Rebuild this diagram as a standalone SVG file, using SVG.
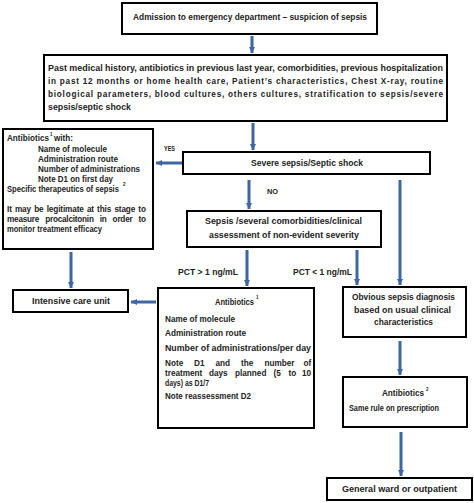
<svg xmlns="http://www.w3.org/2000/svg" width="474" height="503" viewBox="0 0 474 503">
<defs>
<marker id="ah" markerUnits="userSpaceOnUse" markerWidth="8" markerHeight="8" refX="6" refY="3.5" orient="auto">
<path d="M0,0.5 L6,3.5 L0,6.5 z" fill="#3d66a3"/>
</marker>
</defs>
<style>
.box{fill:#fff;stroke:#000;stroke-width:2}
.t{font-family:"Liberation Sans",Arial,sans-serif;font-weight:bold;font-size:8.2px;fill:#222}
.s{font-family:"Liberation Sans",Arial,sans-serif;font-weight:bold;font-size:4.5px;fill:#222}
.l{font-family:"Liberation Sans",Arial,sans-serif;font-weight:bold;font-size:7px;fill:#222}
.c{stroke:#3d66a3;stroke-width:3;fill:none;marker-end:url(#ah)}
</style>
<rect width="474" height="503" fill="#fff"/>
<g id="connectors">
<line class="c" x1="252" y1="36" x2="252" y2="53"/>
<line class="c" x1="253" y1="123" x2="253" y2="150"/>
<line class="c" x1="183" y1="163" x2="156" y2="163"/>
<line class="c" x1="249" y1="180" x2="249" y2="209"/>
<line class="c" x1="400" y1="180" x2="400" y2="285"/>
<line class="c" x1="71" y1="252" x2="71" y2="288"/>
<line class="c" x1="247" y1="250" x2="247" y2="286"/>
<line class="c" x1="357" y1="250" x2="357" y2="285"/>
<line class="c" x1="156" y1="302" x2="131" y2="302"/>
<line class="c" x1="400" y1="341" x2="400" y2="375"/>
<line class="c" x1="401" y1="432" x2="401" y2="476"/>
<text class="l" x="164" y="151" textLength="11" lengthAdjust="spacingAndGlyphs">YES</text>
<text class="l" x="267" y="194" textLength="11" lengthAdjust="spacingAndGlyphs">NO</text>
<text class="t" x="178" y="275" textLength="60" lengthAdjust="spacingAndGlyphs">PCT &gt; 1 ng/mL</text>
<text class="t" x="293" y="275" textLength="59" lengthAdjust="spacingAndGlyphs">PCT &lt; 1 ng/mL</text>
</g>
<g id="n-admission">
<rect class="box" x="122" y="3" width="255" height="31"/>
<text class="t" x="133" y="20" textLength="234" lengthAdjust="spacingAndGlyphs">Admission to emergency department – suspicion of sepsis</text>
</g>
<g id="n-history">
<rect class="box" x="44" y="55" width="403" height="66"/>
<text class="t" x="48" y="71" textLength="395" lengthAdjust="spacingAndGlyphs">Past medical history, antibiotics in previous last year, comorbidities, previous hospitalization</text>
<text class="t" x="48" y="84" textLength="395" lengthAdjust="spacing">in past 12 months or home health care, Patient’s characteristics, Chest X-ray, routine</text>
<text class="t" x="48" y="97" textLength="395" lengthAdjust="spacing">biological parameters, blood cultures, others cultures, stratification to sepsis/severe</text>
<text class="t" x="48" y="110" textLength="83" lengthAdjust="spacingAndGlyphs">sepsis/septic shock</text>
</g>
<g id="n-antibiotics-left">
<rect class="box" x="3" y="129" width="150" height="120"/>
<text class="t" x="7" y="141" textLength="42" lengthAdjust="spacingAndGlyphs">Antibiotics</text>
<text class="s" x="50" y="136">1</text>
<text class="t" x="54" y="141" textLength="19" lengthAdjust="spacingAndGlyphs">with:</text>
<text class="t" x="38" y="151.5" textLength="69" lengthAdjust="spacingAndGlyphs">Name of molecule</text>
<text class="t" x="38" y="162" textLength="80" lengthAdjust="spacingAndGlyphs">Administration route</text>
<text class="t" x="38" y="172" textLength="102" lengthAdjust="spacingAndGlyphs">Number of administrations</text>
<text class="t" x="38" y="182" textLength="75" lengthAdjust="spacingAndGlyphs">Note D1 on first day</text>
<text class="t" x="7" y="192" textLength="112" lengthAdjust="spacingAndGlyphs">Specific therapeutics of sepsis</text>
<text class="s" x="123" y="185.5">2</text>
<text class="t" x="7" y="212" word-spacing="1" textLength="139" lengthAdjust="spacing">It may be legitimate at this stage to</text>
<text class="t" x="7" y="222" word-spacing="4" textLength="139" lengthAdjust="spacing">measure procalcitonin in order to</text>
<text class="t" x="7" y="232" textLength="95" lengthAdjust="spacingAndGlyphs">monitor treatment efficacy</text>
</g>
<g id="n-severe">
<rect class="box" x="183" y="152" width="247" height="22"/>
<text class="t" x="251" y="166" textLength="112" lengthAdjust="spacingAndGlyphs">Severe sepsis/Septic shock</text>
</g>
<g id="n-sepsis">
<rect class="box" x="187" y="211" width="194" height="36"/>
<text class="t" x="205" y="224" textLength="157" lengthAdjust="spacingAndGlyphs">Sepsis /several comorbidities/clinical</text>
<text class="t" x="209" y="238" textLength="150" lengthAdjust="spacingAndGlyphs">assessment of non-evident severity</text>
</g>
<g id="n-icu">
<rect class="box" x="13" y="290" width="115" height="22"/>
<text class="t" x="32" y="304" textLength="78" lengthAdjust="spacingAndGlyphs">Intensive care unit</text>
</g>
<g id="n-antibiotics-mid">
<rect class="box" x="158" y="288" width="156" height="140"/>
<text class="t" x="215" y="305" textLength="39" lengthAdjust="spacingAndGlyphs">Antibiotics</text>
<text class="s" x="256" y="299">1</text>
<text class="t" x="165" y="322" textLength="70" lengthAdjust="spacingAndGlyphs">Name of molecule</text>
<text class="t" x="165" y="336" textLength="81" lengthAdjust="spacingAndGlyphs">Administration route</text>
<text class="t" x="165" y="351" textLength="146" lengthAdjust="spacingAndGlyphs">Number of administrations/per day</text>
<text class="t" y="366"><tspan x="165">Note</tspan><tspan x="194">D1</tspan><tspan x="215.5">and</tspan><tspan x="241">the</tspan><tspan x="264.5">number</tspan><tspan x="303.5">of</tspan></text>
<text class="t" y="376"><tspan x="165">treatment</tspan><tspan x="209">days</tspan><tspan x="235">planned</tspan><tspan x="273.5">(5</tspan><tspan x="288.5">to</tspan><tspan x="302">10</tspan></text>
<text class="t" x="165" y="386" textLength="44" lengthAdjust="spacingAndGlyphs">days) as D1/7</text>
<text class="t" x="165" y="399" textLength="86" lengthAdjust="spacingAndGlyphs">Note reassessment D2</text>
</g>
<g id="n-obvious">
<rect class="box" x="343" y="287" width="123" height="50"/>
<text class="t" x="352" y="300" textLength="103" lengthAdjust="spacingAndGlyphs">Obvious sepsis diagnosis</text>
<text class="t" x="354" y="313" textLength="97" lengthAdjust="spacingAndGlyphs">based on usual clinical</text>
<text class="t" x="374" y="325" textLength="59" lengthAdjust="spacingAndGlyphs">characteristics</text>
</g>
<g id="n-antibiotics-right">
<rect class="box" x="343" y="377" width="124" height="50"/>
<text class="t" x="382" y="396" textLength="42" lengthAdjust="spacingAndGlyphs">Antibiotics</text>
<text class="s" x="426" y="391">2</text>
<text class="t" x="349" y="411" textLength="90" lengthAdjust="spacingAndGlyphs">Same rule on prescription</text>
</g>
<g id="n-general">
<rect class="box" x="327" y="478" width="145" height="22"/>
<text class="t" x="342" y="492" textLength="115" lengthAdjust="spacingAndGlyphs">General ward or outpatient</text>
</g>
</svg>
